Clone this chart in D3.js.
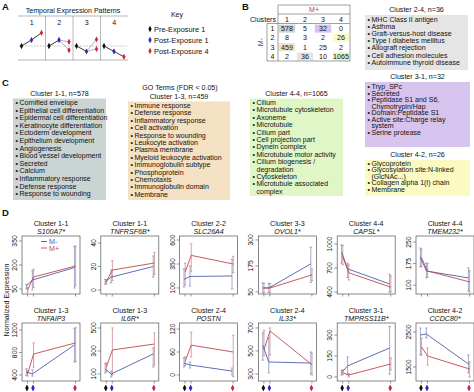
<!DOCTYPE html>
<html>
<head>
<meta charset="utf-8">
<script src="https://cdn.jsdelivr.net/npm/d3@7"></script>
<style>
body { margin: 0; background: #fff; }
text { font-family: "Liberation Sans", Arial, sans-serif; fill: #111; }
</style>
</head>
<body>
<script>
// ---- panel A: temporal patterns ----
var patternIds = ["1", "2", "3", "4"];
// relative level at pre-exposure, post-exposure 1, post-exposure 4 (one or two endings)
var patternLevels = [
  [0, 1, [2.2]],
  [0, 1, [0.7, -0.7]],
  [0, -0.9, [1.1, -0.5]],
  [0, -0.9, [-1.8]]
];
var keyLabels = ["Pre-Exposure 1", "Post-Exposure 1", "Post-Exposure 4"];
var keyColors = ["#111111", "#3b21c9", "#d3263a"];

// ---- panel B: cluster overlap table (rows M-, columns M+) ----
var clusterIds = ["1", "2", "3", "4"];
var clusterCounts = [
  [578, 5, 32, 0],
  [8, 3, 2, 26],
  [459, 1, 25, 2],
  [2, 36, 10, 1065]
];

// ---- GO term boxes (name = "M+ cluster - M- cluster") ----
var goClusters = ["1-1", "1-3", "4-4", "2-4", "3-1", "4-2"];
var goSizes = [578, 459, 1065, 36, 32, 26];
var goColors = ["#cad4d3", "#f4e0c2", "#e1f6c7", "#e5e5e5", "#d7c4ee", "#fafac2"];
var goTerms = [
  ["Cornified envelope", "Epithelial cell differentiation", "Epidermal cell differentiation",
   "Keratinocyte differentiation", "Ectoderm development", "Epithelium development",
   "Angiogenesis", "Blood vessel development", "Secreted", "Calcium",
   "Inflammatory response", "Defense response", "Response to wounding"],
  ["Immune response", "Defense response", "Inflammatory response", "Cell activation",
   "Response to wounding", "Leukocyte activation", "Plasma membrane",
   "Myeloid leukocyte activation", "Immunoglobulin subtype", "Phosphoprotein",
   "Chemotaxis", "Immunoglobulin domain", "Membrane"],
  ["Cilium", "Microtubule cytoskeleton", "Axoneme", "Microtubule", "Cilium part",
   "Cell projection part", "Dynein complex", "Microtubule motor activity",
   "Cilium biogenesis /|degradation", "Cytoskeleton", "Microtubule associated|complex"],
  ["MHC Class II antigen", "Asthma", "Graft-versus-host disease", "Type I diabetes mellitus",
   "Allograft rejection", "Cell adhesion molecules", "Autoimmune thyroid disease"],
  ["Tryp_SPc", "Secreted", "Peptidase S1 and S6,|Chymotrypin/Hap", "Domain:Peptidase S1",
   "Active site:Charge relay|system", "Serine protease"],
  ["Glycoprotein", "Glycosylation site:N-linked|(GlcNAc...)", "Collagen alpha 1(I) chain", "Membrane"]
];

// ---- panel D: gene expression over time ----
var timePoints = [1, 2, 9];
var geneCluster = ["Cluster 1-1", "Cluster 1-1", "Cluster 2-2", "Cluster 3-3", "Cluster 4-4", "Cluster 4-4",
                   "Cluster 1-3", "Cluster 1-3", "Cluster 2-4", "Cluster 2-4", "Cluster 3-1", "Cluster 4-2"];
var geneNames = ["S100A7*", "TNFRSF6B*", "SLC26A4", "OVOL1*", "CAPSL*", "TMEM232*",
                 "TNFAIP3", "IL6R*", "POSTN", "IL33*", "TMPRSS11B*", "CCDC80*"];
var yTicks = [[50, 200, 350], [0, 20, 40], [100, 350, 600], [50, 175, 300], [400, 700, 1000], [100, 175, 250],
              [400, 800, 1200], [100, 300, 500], [0, 60, 120], [300, 500, 700], [0, 150, 300], [1500, 2500]];
var yLimits = [[19, 381], [-3.4, 46], [37, 642], [40, 319], [375, 1100], [69, 271],
               [293, 1324], [39, 543], [-16, 136], [239, 743], [-29, 386], [1100, 2757]];
var meanMinus = [[69, 106, 184], [7, 11, 20], [190, 220, 225], [69, 69, 185], [900, 690, 500], [198, 149, 125],
                 [452, 418, 933], [143, 100, 274], [31, 26, 10], [550, 404, 395], [30, 79, 207], [2414, 2443, 1586]];
var meanPlus = [[44, 125, 194], [7, 17, 23], [267, 440, 350], [69, 69, 132], [840, 640, 460], [194, 149, 111],
                [418, 773, 970], [160, 309, 360], [36, 78, 60], [510, 674, 380], [30, 14, 93], [2071, 1814, 1443]];
var errMinus = [
  [[50, 80], [45, 165], [56, 315]], [[5, 9], [6, 17], [11, 29]], [[110, 300], [120, 330], [90, 400]],
  [[45, 93], [47, 92], [95, 265]], [[760, 990], [580, 760], [400, 620]], [[163, 229], [125, 177], [80, 160]],
  [[390, 510], [380, 490], [630, 1230]], [[109, 190], [74, 126], [161, 326]], [[21, 45], [18, 34], [0, 18]],
  [[420, 657], [309, 613], [300, 491]], [[14, 48], [14, 143], [20, 360]], [[1843, 2614], [2330, 2614], [1330, 1843]]
];
var errPlus = [
  [[31, 60], [60, 175], [70, 319]], [[5, 9], [8, 25], [13, 32]], [[130, 360], [270, 560], [260, 430]],
  [[47, 92], [48, 90], [105, 160]], [[740, 980], [550, 740], [400, 600]], [[165, 225], [128, 175], [76, 150]],
  [[380, 480], [540, 970], [640, 1240]], [[120, 196], [91, 500], [178, 456]], [[24, 47], [47, 112], [-5, 104]],
  [[460, 680], [465, 700], [291, 480]], [[16, 50], [0, 25], [50, 136]], [[1843, 2330], [1557, 2043], [1214, 1643]]
];

var blue = "#4d5fae", red = "#c2484c";
var blueBar = "#7d86b8", redBar = "#cc7a80";
var fs = 7.1;

var svg = d3.select("body").append("svg")
    .attr("width", 474)
    .attr("height", 392);

function label(x, y, s, size, anchor) {
  return svg.append("text").attr("x", x).attr("y", y)
    .attr("font-size", size).attr("text-anchor", anchor || "start").text(s);
}
function panelLetter(x, y, s) {
  label(x, y, s, 9.5).attr("font-weight", "bold");
}
function diamond(g, x, y, color, r) {
  g.append("path")
    .attr("d", d3.symbol().type(d3.symbolDiamond).size(r * r * 2)())
    .attr("transform", "translate(" + x + "," + y + ")")
    .attr("fill", color);
  g.append("line").attr("x1", x).attr("x2", x).attr("y1", y - r * 1.1).attr("y2", y + r * 1.1)
    .attr("stroke", color).attr("stroke-width", 0.8);
}

// ================= A =================
panelLetter(2, 10, "A");
label(73, 13, "Temporal Expression Patterns", fs, "middle");

var colX = d3.scaleBand().domain(patternIds).range([18, 128]);
var levY = d3.scaleLinear().domain([0, 1]).range([46, 40]);
var stepX = d3.scalePoint().domain([0, 1, 2]).range([3.5, 23.5]);
var gA = svg.append("g");

gA.append("line").attr("x1", 18).attr("x2", 128).attr("y1", 16).attr("y2", 16).attr("stroke", "#999").attr("stroke-width", 0.7);
gA.append("line").attr("x1", 18).attr("x2", 128).attr("y1", 60).attr("y2", 60).attr("stroke", "#999").attr("stroke-width", 0.7);
patternIds.forEach(function(p, i) {
  var x0 = colX(p);
  if (i > 0) gA.append("line").attr("x1", x0).attr("x2", x0).attr("y1", 16).attr("y2", 60).attr("stroke", "#999").attr("stroke-width", 0.7);
  label(x0 + colX.bandwidth() / 2, 25, p, fs, "middle");
  gA.append("line").attr("x1", x0 + 1).attr("x2", x0 + colX.bandwidth() - 1)
    .attr("y1", levY(0)).attr("y2", levY(0))
    .attr("stroke", "#aaa").attr("stroke-width", 0.6).attr("stroke-dasharray", "2,1");

  var lv = patternLevels[i];
  var split = lv[2].length > 1;
  gA.append("line").attr("x1", x0 + stepX(0)).attr("y1", levY(lv[0]))
    .attr("x2", x0 + stepX(1)).attr("y2", levY(lv[1]))
    .attr("stroke", "#222").attr("stroke-width", 0.9);
  lv[2].forEach(function(v) {
    gA.append("line").attr("x1", x0 + stepX(1)).attr("y1", levY(lv[1]))
      .attr("x2", x0 + stepX(2)).attr("y2", levY(v))
      .attr("stroke", split ? "#888" : "#222").attr("stroke-width", split ? 0.6 : 0.9);
  });
  diamond(gA, x0 + stepX(0), levY(lv[0]), keyColors[0], 2.2);
  diamond(gA, x0 + stepX(1), levY(lv[1]), keyColors[1], 2.2);
  lv[2].forEach(function(v) { diamond(gA, x0 + stepX(2), levY(v), keyColors[2], 2.2); });
});

label(177, 17, "Key", fs, "middle");
keyLabels.forEach(function(k, i) {
  diamond(gA, 150, 29 + i * 11, keyColors[i], 2.2);
  label(154, 31.5 + i * 11, k, 7.4);
});

// ================= B =================
panelLetter(242, 10, "B");
var gB = svg.append("g");
var cellX = d3.scaleBand().domain(clusterIds).range([278, 350]);
var cellY = d3.scaleBand().domain(clusterIds).range([24, 61]);
var tl = "#777";

goClusters.forEach(function(c, i) {
  var parts = c.split("-");  // column = M+ cluster, row = M- cluster
  gB.append("rect")
    .attr("x", cellX(parts[0]) + 0.8).attr("y", cellY(parts[1]) + 0.6)
    .attr("width", cellX.bandwidth() - 1.6).attr("height", cellY.bandwidth() - 1.2)
    .attr("fill", goColors[i]);
});
[[278, 350, 5], [278, 350, 14], [267, 350, 23.5], [267, 350, 61]].forEach(function(l) {
  gB.append("line").attr("x1", l[0]).attr("x2", l[1]).attr("y1", l[2]).attr("y2", l[2]).attr("stroke", tl).attr("stroke-width", 0.7);
});
[[278, 5, 61], [350, 5, 61], [267, 23.5, 61]].forEach(function(l) {
  gB.append("line").attr("x1", l[0]).attr("x2", l[0]).attr("y1", l[1]).attr("y2", l[2]).attr("stroke", tl).attr("stroke-width", 0.7);
});
label(314, 12, "M+", fs, "middle").style("fill", "#b8453f");
label(276, 21.5, "Clusters", fs, "end");
svg.append("text").attr("transform", "translate(263,42) rotate(-90)")
  .attr("font-size", fs).attr("text-anchor", "middle").style("fill", "#3d55b0").text("M-");
clusterIds.forEach(function(c) {
  label(cellX(c) + cellX.bandwidth() / 2, 21.5, c, fs, "middle");
  label(272.5, cellY(c) + cellY.bandwidth() / 2 + 2.5, c, fs, "middle");
});
clusterCounts.forEach(function(row, r) {
  row.forEach(function(v, c) {
    label(cellX(clusterIds[c]) + cellX.bandwidth() / 2, cellY(clusterIds[r]) + cellY.bandwidth() / 2 + 2.5, v, fs, "middle");
  });
});

// ================= C (GO boxes) =================
panelLetter(2, 86, "C");
label(180, 90, "GO Terms (FDR < 0.05)", fs, "middle");

function goBox(i, x, w, titleY, top, bottom, firstY, step) {
  label(x + w / 2, titleY, "Cluster " + goClusters[i] + ", n=" + goSizes[i], fs, "middle");
  svg.append("rect").attr("x", x).attr("y", top).attr("width", w).attr("height", bottom - top)
    .attr("fill", goColors[i]);
  var line = 0;
  goTerms[i].forEach(function(t) {
    t.split("|").forEach(function(part, j) {
      var y = firstY + line * step;
      if (j === 0) label(x + 2.5, y, "\u2022", 7);
      label(x + 6.5, y, part, 7);
      line++;
    });
  });
}
goBox(0, 13, 93, 96, 98.5, 200, 105, 7.6);
goBox(1, 128, 102, 99, 101.5, 200, 108, 7.4);
goBox(2, 250, 93, 96, 98.5, 196, 105, 7.4);
goBox(3, 365, 103, 12, 15, 70, 22, 7.1);
goBox(4, 365, 105, 79, 82, 147, 89, 6.55);
goBox(5, 365, 105, 157, 160, 196, 166, 6.4);

// ================= D (expression plots) =================
panelLetter(2, 216, "D");
svg.append("text").attr("transform", "translate(9,300) rotate(-90)")
  .attr("font-size", fs).attr("text-anchor", "middle").text("Normalized Expression");

var plotW = 58;
var plotLeft = d3.scaleLinear().domain([0, 5]).range([22, 416]);
var rowTop = [236, 323], plotH = 58;
var x = d3.scaleLinear().domain([0.17, 9.83]).range([0, plotW]);

geneNames.forEach(function(gene, i) {
  var row = i < 6 ? 0 : 1, col = i % 6;
  var g = svg.append("g")
      .attr("transform", "translate(" + plotLeft(col) + "," + rowTop[row] + ")");
  var y = d3.scaleLinear().domain(yLimits[i]).range([plotH, 0]);

  g.append("text").attr("x", plotW / 2).attr("y", -10.5).attr("text-anchor", "middle")
    .attr("font-size", fs).text(geneCluster[i]);
  g.append("text").attr("x", plotW / 2).attr("y", -2.5).attr("text-anchor", "middle")
    .attr("font-size", fs).attr("font-style", "italic").text(gene);

  g.append("rect").attr("width", plotW).attr("height", plotH)
    .attr("fill", "none").attr("stroke", "#555").attr("stroke-width", 0.7);

  // y axis, labels parallel to the axis
  var ya = g.append("g").call(d3.axisLeft(y).tickValues(yTicks[i]).tickSize(3).tickFormat(d3.format("d")));
  ya.select(".domain").remove();
  ya.selectAll("line").attr("stroke", "#555").attr("stroke-width", 0.6);
  ya.selectAll("text")
    .attr("font-size", 6.8).attr("x", 0).attr("dy", 0)
    .attr("transform", function(d) { return "translate(-5," + y(d) + ") rotate(-90)"; })
    .attr("y", 0).attr("text-anchor", "middle")
    .style("font-family", "'Liberation Sans', Arial, sans-serif").style("fill", "#111");
  ya.selectAll(".tick").attr("transform", null);
  ya.selectAll(".tick line").attr("y1", function(d) { return y(d); }).attr("y2", function(d) { return y(d); });

  // x ticks at the three time points
  var xa = g.append("g").attr("transform", "translate(0," + plotH + ")")
    .call(d3.axisBottom(x).tickValues(timePoints).tickSize(2.5).tickFormat(""));
  xa.select(".domain").remove();
  xa.selectAll("line").attr("stroke", "#555").attr("stroke-width", 0.6);

  var series = [
    {mean: meanMinus[i], err: errMinus[i], color: blue, bar: blueBar, dx: -0.6},
    {mean: meanPlus[i], err: errPlus[i], color: red, bar: redBar, dx: 0.6}
  ];
  series.forEach(function(s) {
    s.err.forEach(function(e, k) {
      var cx = x(timePoints[k]) + s.dx;
      g.append("line").attr("x1", cx).attr("x2", cx).attr("y1", y(e[0])).attr("y2", y(e[1]))
        .attr("stroke", s.bar).attr("stroke-width", 0.7);
      [e[0], e[1]].forEach(function(v) {
        g.append("line").attr("x1", cx - 1.2).attr("x2", cx + 1.2).attr("y1", y(v)).attr("y2", y(v))
          .attr("stroke", s.bar).attr("stroke-width", 0.7);
      });
    });
  });
  series.forEach(function(s) {
    g.append("path")
      .datum(s.mean)
      .attr("fill", "none").attr("stroke", s.color).attr("stroke-width", 0.9)
      .attr("d", d3.line().x(function(d, k) { return x(timePoints[k]) + s.dx; }).y(function(d) { return y(d); }));
  });

  if (i === 0) {
    [["M-", blue], ["M+", red]].forEach(function(l, k) {
      g.append("line").attr("x1", 19).attr("x2", 25).attr("y1", 5.5 + k * 6.5).attr("y2", 5.5 + k * 6.5)
        .attr("stroke", l[1]).attr("stroke-width", 0.9);
      g.append("text").attr("x", 27).attr("y", 8 + k * 6.5).attr("font-size", fs)
        .style("fill", l[1]).text(l[0]);
    });
  }
  if (row === 1) {
    timePoints.forEach(function(t, k) {
      diamond(g, x(t), plotH + 7, keyColors[k], 2.4);
    });
  }
});
</script>
</body>
</html>
